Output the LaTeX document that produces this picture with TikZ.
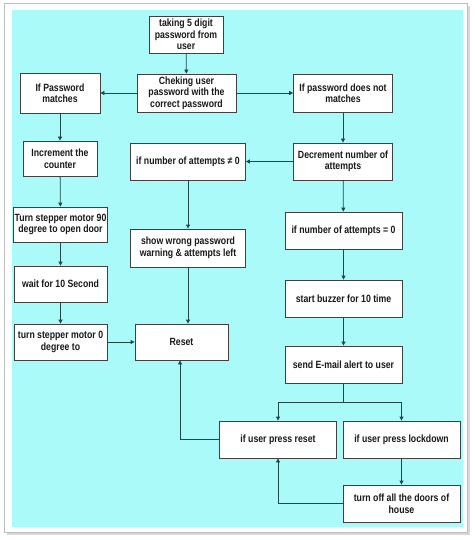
\documentclass[tikz,border=0pt]{standalone}
\usepackage{fontspec}
\setmainfont{Liberation Sans}[FakeStretch=0.83]
\usetikzlibrary{arrows.meta}
\definecolor{bgcyan}{RGB}{170,250,250}
\definecolor{linecol}{RGB}{32,72,72}
\definecolor{edgecol}{RGB}{64,64,64}
\definecolor{framecol}{RGB}{190,190,190}
\begin{document}
\begin{tikzpicture}[
  x=1pt, y=-1pt,
  every node/.style={font=\fontsize{10.5}{11.5}\selectfont\bfseries, text=black!90},
  box/.style={draw=edgecol, line width=0.8pt, fill=white, align=center, inner sep=1pt},
  arr/.style={draw=linecol, line width=0.8pt, -{Triangle[length=4pt,width=4pt]}},
  wire/.style={draw=linecol, line width=0.8pt}
]
  \useasboundingbox (0,0) rectangle (474,540);
  % frame and background
  \fill[framecol!60] (7,6) rectangle (470,535);
  \filldraw[fill=white, draw=framecol] (4,3) rectangle (467,532);
  \fill[bgcyan] (12,10) rectangle (463,527);

  % boxes
  \node[box, minimum width=74pt, minimum height=37pt] (take) at (186,34.5) {taking 5 digit\\password from\\user};
  \node[box, minimum width=99pt, minimum height=38pt] (check) at (186.5,93) {Cheking user\\password with the\\correct password};
  \node[box, minimum width=80pt, minimum height=40pt] (match) at (60,93) {If Password\\matches};
  \node[box, minimum width=99pt, minimum height=38pt] (nomatch) at (343,93) {If password does not\\matches};
  \node[box, minimum width=74pt, minimum height=35pt] (incr) at (60,158.5) {Increment the\\counter};
  \node[box, minimum width=115pt, minimum height=37pt] (neq) at (188,161.5) {if number of attempts ≠ 0};
  \node[box, minimum width=99pt, minimum height=37pt] (decr) at (343,161.5) {Decrement number of\\attempts};
  \node[box, minimum width=93pt, minimum height=35pt] (open) at (60.5,224.5) {Turn stepper motor 90\\degree to open door};
  \node[box, minimum width=115pt, minimum height=38pt] (wrong) at (188,248) {show wrong password\\warning \& attempts left};
  \node[box, minimum width=117pt, minimum height=37pt] (eqz) at (343.5,230.5) {if number of attempts = 0};
  \node[box, minimum width=93pt, minimum height=36pt] (wait) at (60.5,284) {wait for 10 Second};
  \node[box, minimum width=117pt, minimum height=37pt] (buzz) at (343.5,298.5) {start buzzer for 10 time};
  \node[box, minimum width=93pt, minimum height=36pt] (close) at (60.5,342) {turn stepper motor 0\\degree to};
  \node[box, minimum width=93pt, minimum height=36pt] (reset) at (181.5,342) {Reset};
  \node[box, minimum width=117pt, minimum height=37pt] (mail) at (343.5,364.5) {send E-mail alert to user};
  \node[box, minimum width=117pt, minimum height=37pt] (ureset) at (278,439.5) {if user press reset};
  \node[box, minimum width=117pt, minimum height=37pt] (ulock) at (401.5,439.5) {if user press lockdown};
  \node[box, minimum width=117pt, minimum height=37pt] (doors) at (401.5,503.5) {turn off all the doors of\\house};
  \coordinate (split) at (343.5,402);

  % connectors
  \draw[arr] (take) -- (check);
  \draw[arr] (check) -- (match);
  \draw[arr] (check) -- (nomatch);
  \draw[arr] (match) -- (incr);
  \draw[arr] (incr) -- (open);
  \draw[arr] (open) -- (wait);
  \draw[arr] (wait) -- (close);
  \draw[arr] (close) -- (reset);
  \draw[arr] (nomatch) -- (decr);
  \draw[arr] (decr) -- (neq);
  \draw[arr] (neq) -- (wrong);
  \draw[arr] (wrong.south) -- (wrong.south |- reset.north);
  \draw[arr] (decr) -- (eqz);
  \draw[arr] (eqz) -- (buzz);
  \draw[arr] (buzz) -- (mail);
  \draw[wire] (mail) -- (split);
  \draw[arr] (split) -| (ureset.north);
  \draw[arr] (split) -| (ulock.north);
  \draw[arr] (ulock) -- (doors);
  \draw[arr] (ureset.west) -| ([xshift=-1.5pt]reset.south);
  \draw[arr] (doors.west) -| (ureset.south);
\end{tikzpicture}
\end{document}
